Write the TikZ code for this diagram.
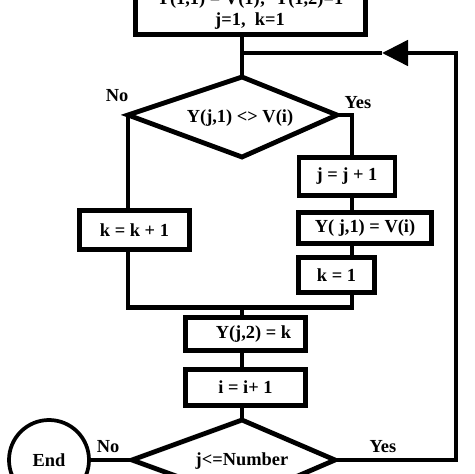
\documentclass[tikz,border=0pt]{standalone}
\usepackage{fontspec}
\setmainfont{Liberation Serif}
\usetikzlibrary{arrows.meta}
\def\pxu{0.75pt}
\begin{document}
\begin{tikzpicture}[x=0.75pt,y=-0.75pt,
  every node/.style={font=\fontsize{13.8}{15.75}\selectfont\bfseries},
  flowbox/.style={draw, line width=3.6pt, rectangle, inner sep=0pt, outer sep=0pt},
  conn/.style={line width=3.6pt, line join=miter},
  lbl/.style={inner sep=0pt, outer sep=0pt}]
\useasboundingbox (0,0) rectangle (474,474);

% init box
\node[flowbox, minimum width=230*\pxu, minimum height=80*\pxu, anchor=south] (init) at (250.5,34.5) {};
\node[lbl, align=center] (inittext) at (250,11) {Y(1,1) = V(1);\ \ Y(1,2)=1\\j=1,\ \ k=1};

% decision 1
\coordinate (d1t) at (242,77);
\coordinate (d1l) at (128,115);
\coordinate (d1r) at (337,115);
\coordinate (d1b) at (242,157);
\draw[conn] (d1t) -- (d1r) -- (d1b) -- (d1l) -- cycle;
\node[lbl] (d1text) at (240,118) {Y(j,1) <> V(i)};
\node[lbl] (no1) at (117,96) {No};
\node[lbl] (yes1) at (358,103) {Yes};

% boxes
\node[flowbox, minimum width=110*\pxu, minimum height=39*\pxu] (kk) at (134.5,230) {k = k + 1};
\node[flowbox, minimum width=96*\pxu, minimum height=38*\pxu] (jj) at (347,176.5) {j = j + 1};
\node[flowbox, minimum width=133*\pxu, minimum height=31*\pxu] (yv) at (365,228) {Y( j,1) = V(i)};
\node[flowbox, minimum width=76*\pxu, minimum height=35*\pxu] (k1) at (336.5,275) {k = 1};
\node[flowbox, minimum width=120*\pxu, minimum height=33*\pxu] (y2) at (245.5,334) {\hspace*{12pt}Y(j,2) = k};
\node[flowbox, minimum width=120*\pxu, minimum height=36*\pxu] (ii) at (245.5,387.5) {i = i+ 1};

% decision 2
\coordinate (d2t) at (242,420);
\coordinate (d2l) at (132,460);
\coordinate (d2r) at (335,460);
\coordinate (d2b) at (242,500);
\draw[conn] (d2t) -- (d2r) -- (d2b) -- (d2l) -- cycle;
\node[lbl] (d2text) at (242,461) {j<=Number};
\node[lbl] (no2) at (108,447) {No};
\node[lbl] (yes2) at (383,447) {Yes};

% end
\node[draw, circle, line width=2.8pt, minimum size=80*\pxu, inner sep=0pt, outer sep=0pt] (end) at (49,460) {End};

% helper coordinates
\coordinate (join) at (242,53);
\coordinate (rc) at (456,460);
\coordinate (rt) at (456,53);
\coordinate (atip) at (382,53);
\coordinate (rb) at (352,115);
\coordinate (mL) at (128,307.5);
\coordinate (mR) at (352,307.5);
\coordinate (merge) at (242,307.5);

% connectors
\draw[conn] (d1t |- init.south) -- (d1t);
\draw[conn] (d1l) -- (d1l |- kk.north);
\draw[conn] (d1r) -- (rb) -- (rb |- jj.north);
\draw[conn] (rb |- jj.south) -- (rb |- yv.north);
\draw[conn] (rb |- yv.south) -- (rb |- k1.north);
\draw[conn] (d1l |- kk.south) -- (mL) -- (mR) -- (mR |- k1.south);
\draw[conn] (merge) -- (merge |- y2.north);
\draw[conn] (merge |- y2.south) -- (merge |- ii.north);
\draw[conn] (merge |- ii.south) -- (d2t);
\draw[conn] (end.east) -- (d2l);
\draw[conn, -{Triangle[length=19.5pt,width=18.75pt]}] (d2r) -- (rc) -- (rt) -- (atip);
\draw[conn] (atip) -- (join);
\end{tikzpicture}
\end{document}
